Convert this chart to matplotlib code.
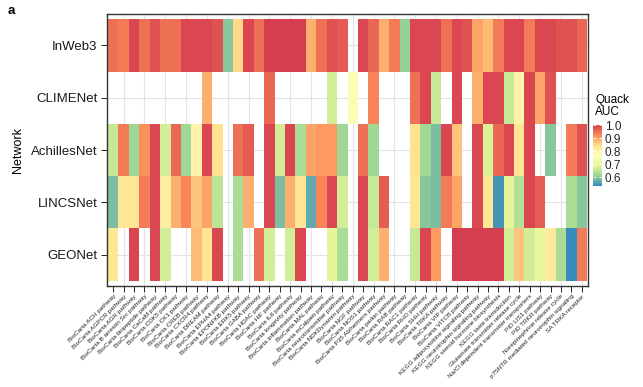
import numpy as np
import matplotlib
matplotlib.use("Agg")
import matplotlib.pyplot as plt
from matplotlib.colors import LinearSegmentedColormap, Normalize

plt.rcParams['font.family'] = ['Liberation Sans', 'DejaVu Sans']

nan = np.nan

networks = ["InWeb3", "CLIMENet", "AchillesNet", "LINCSNet", "GEONet"]

pathways = [
    "BioCarta ACH pathway", "BioCarta AGPCR pathway", "BioCarta AGR pathway",
    "BioCarta B arrestin Src pathway", "BioCarta biopeptide pathway",
    "BioCarta CaCaM pathway", "BioCarta CDK5 pathway", "BioCarta CK1 pathway",
    "BioCarta CREB pathway", "BioCarta CXCR4 pathway", "BioCarta DREAM pathway",
    "BioCarta EPHA4 pathway", "BioCarta EPONFKB pathway", "BioCarta ERK5 pathway",
    "BioCarta GABA pathway", "BioCarta HDAC pathway", "BioCarta HIF pathway",
    "BioCarta IL6 pathway", "BioCarta longevity pathway",
    "BioCarta inflammation pathway", "BioCarta MAL pathway",
    "BioCarta mCalpain pathway", "BioCarta neurotransmitter pathway",
    "BioCarta NDKDynamin pathway", "BioCarta NGF pathway", "BioCarta NOS1 pathway",
    "BioCarta P35 Alzheimers pathway", "BioCarta parkin pathway",
    "BioCarta RAB pathway", "BioCarta RAC1 pathway", "BioCarta RHO pathway",
    "BioCarta SHH pathway", "BioCarta TRKA pathway", "BioCarta VIP pathway",
    "BioCarta VITCB pathway", "KEGG adipocytokine signaling pathway",
    "KEGG neurotrophin signaling pathway", "KEGG steroid hormone biosynthesis",
    "KEGG taste transduction", "Glutamate transmitter release cycle",
    "Na/Cl dependent transmitter transporters", "PID LIS1 pathway",
    "PID TRKR pathway", "Norepinephrine release cycle",
    "p75NTR mediated neurotrophin signaling", "SA TRKA receptor",
]

inweb3 = [0.95, 0.94, 0.99, 0.95, 0.98, 0.95, 0.95, 0.99, 0.99, 0.99, 0.98, 0.60,
          0.85, 0.99, 0.95, 1.00, 1.00, 1.00, 1.00, 0.89, 0.95, 0.98, 0.97, nan,
          0.99, 0.96, 0.89, 0.94, 0.61, 0.99, 0.99, 0.99, 0.95, 0.99, 0.98, 0.90,
          0.88, 0.94, 0.99, 0.99, 0.94, 0.99, 0.99, 0.98, 0.98, 0.96]

climenet = [nan, nan, nan, nan, nan, nan, nan, nan, nan, 0.89, nan, nan,
            nan, nan, nan, 0.96, nan, nan, nan, nan, nan, 0.67, nan, 0.75,
            nan, 0.93, nan, nan, nan, 0.95, 0.99, 0.66, nan, 0.99, nan, 0.89,
            0.99, 0.99, 0.66, 0.80, 0.99, 0.90, 0.98, nan, nan, nan]

achillesnet = [0.66, 0.94, 0.62, 0.92, 0.99, 0.67, 0.96, 0.62, 0.80, 0.99, 0.84, nan,
               0.95, 0.97, nan, 0.99, 0.67, 0.99, 0.63, 0.90, 0.91, 0.91, 0.62, nan,
               0.95, 0.62, nan, nan, nan, 0.84, 0.62, 0.59, 0.99, 0.87, nan, 0.99,
               0.68, 0.96, 0.99, 0.83, 0.99, nan, 0.60, nan, 0.94, 0.98]

lincsnet = [0.59, 0.83, 0.83, 0.94, 0.99, 0.81, 0.89, 0.93, 0.87, 0.90, 0.65, nan,
            0.63, 0.89, nan, 0.99, 0.59, 0.89, 0.83, 0.57, 0.93, 0.99, 0.67, nan,
            0.99, 0.66, 0.97, nan, nan, 0.83, 0.60, 0.59, 0.94, 0.90, nan, 0.99,
            0.83, 0.55, 0.69, 0.64, 0.99, 0.97, nan, nan, 0.63, 0.60]

geonet = [0.83, nan, 0.99, nan, 0.99, 0.67, nan, nan, 0.88, 0.83, 0.99, nan,
          0.63, nan, 0.95, 0.67, nan, 0.67, 0.99, nan, nan, 0.69, 0.63, nan,
          0.99, 0.67, 0.89, nan, nan, 0.66, 0.99, 0.91, nan, 1.00, 1.00, 1.00,
          1.00, 1.00, 0.67, 0.87, 0.67, 0.70, 0.82, 0.63, 0.54, 0.94]

auc = np.ma.masked_invalid(np.array([inweb3, climenet, achillesnet, lincsnet, geonet]))

spectral7 = ["#3288BD", "#99D594", "#E6F598", "#FFFFBF", "#FEE08B", "#FC8D59", "#D53E4F"]
cmap = LinearSegmentedColormap.from_list("spec", spectral7)
cmap.set_bad((1, 1, 1, 0))
norm = Normalize(vmin=0.535, vmax=1.0)

fig = plt.figure(figsize=(6.43, 3.87), dpi=100)
ax = fig.add_axes([107 / 643, 1 - 286 / 387, (588 - 107) / 643, (286 - 14) / 387])

ncol = len(pathways)
nrow = len(networks)

# grid lines (behind tiles)
for i in range(1, ncol, 2):
    ax.axvline(i, color="#E3E3E3", lw=0.8, zorder=0)
for j in range(nrow):
    ax.axhline(j, color="#E3E3E3", lw=0.8, zorder=0)

xe = np.arange(ncol + 1) - 0.5
ye = np.arange(nrow + 1) - 0.5
mesh = ax.pcolormesh(xe, ye, auc, cmap=cmap, norm=norm, zorder=1, edgecolors="none")

ax.set_xlim(-0.6, ncol - 0.4)
ax.set_ylim(nrow - 0.4, -0.6)

ax.set_xticks(np.arange(ncol))
ax.set_xticklabels(pathways, rotation=45, ha="right", rotation_mode="anchor",
                   fontsize=4.6, color="#222222")
ax.set_yticks(np.arange(nrow))
ax.set_yticklabels(networks, fontsize=9.5, color="#1a1a1a")
ax.tick_params(axis="x", length=4, width=0.7, color="#222222", pad=1.5)
ax.tick_params(axis="y", length=4, width=0.7, color="#222222", pad=3)
for s in ax.spines.values():
    s.set_color("#333333")
    s.set_linewidth(1.0)

ax.set_ylabel("Network", fontsize=9, labelpad=8)
ax.yaxis.set_label_coords(-0.172, 0.5)

fig.text(8 / 643, 1 - 14 / 387, "a", fontsize=9.5, fontweight="bold")

# colorbar
cax = fig.add_axes([593 / 643, 1 - 186 / 387, 9 / 643, 61 / 387])
cb = fig.colorbar(mesh, cax=cax, ticks=[0.6, 0.7, 0.8, 0.9, 1.0])
cb.outline.set_visible(False)
cb.ax.set_yticklabels(["0.6", "0.7", "0.8", "0.9", "1.0"], fontsize=8.5, color="#222222")
cax.tick_params(axis="y", direction="in", color="white", length=2, width=0.6,
                left=True, right=True, pad=2)
fig.text(595 / 643, 1 - 118 / 387, "Quack\nAUC", fontsize=8.5, va="bottom",
         ha="left", linespacing=1.05)

fig.savefig("out.png", dpi=100)
